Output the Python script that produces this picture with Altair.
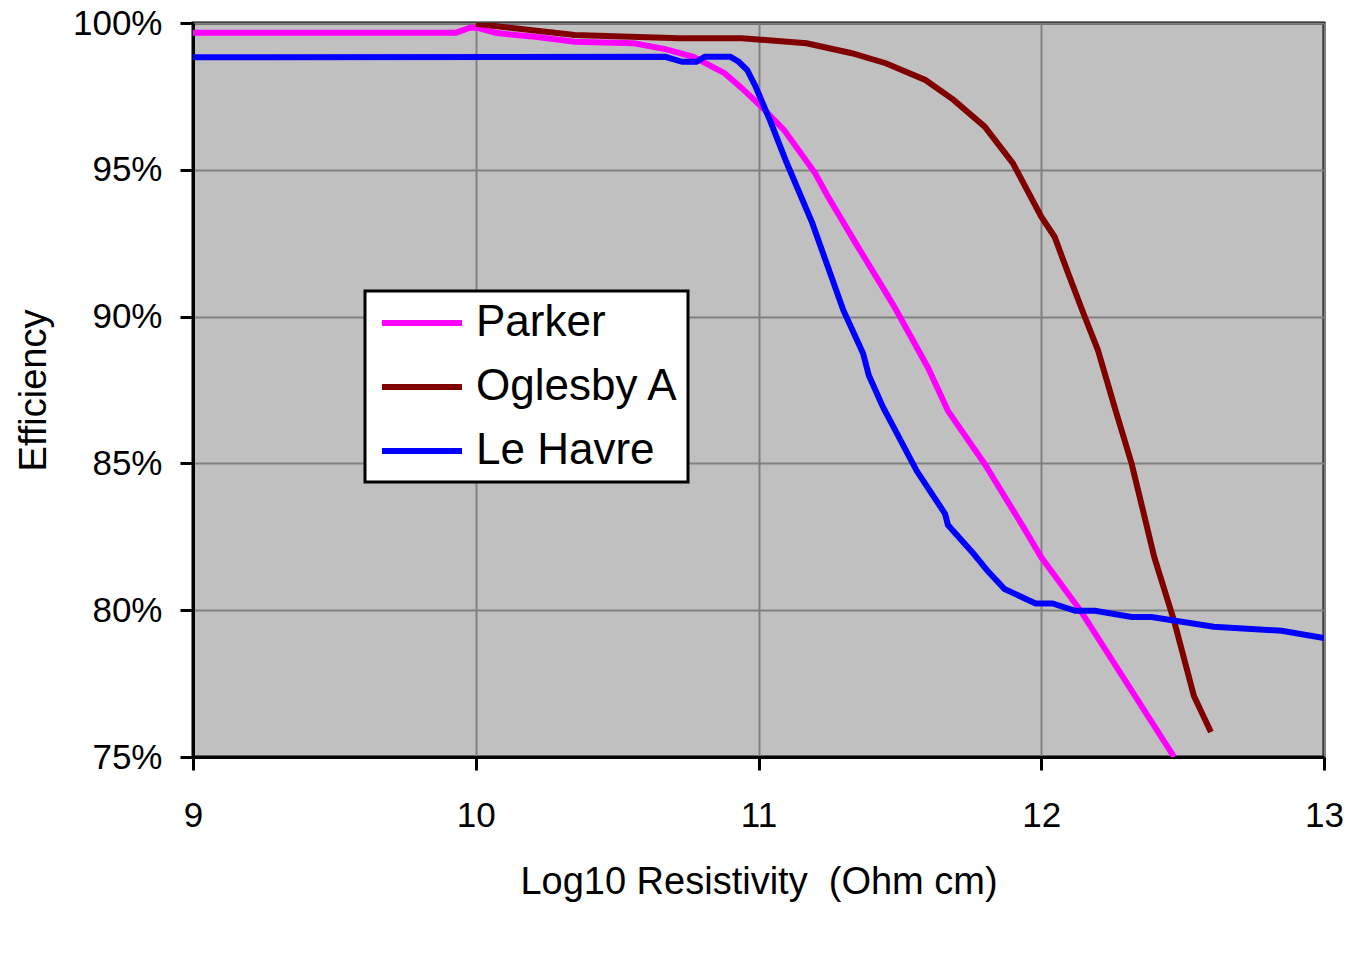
import altair as alt
import pandas as pd

# ---- data ----
parker_x = [9.0, 9.93, 9.98, 10.0, 10.07, 10.14, 10.21, 10.35, 10.56, 10.67, 10.77, 10.88, 10.94,
            11.01, 11.09, 11.20, 11.245, 11.35, 11.43, 11.48, 11.60, 11.67, 11.80, 11.94, 12.0,
            12.14, 12.47]
parker_y = [99.67, 99.67, 99.84, 99.85, 99.67, 99.59, 99.53, 99.36, 99.31, 99.11, 98.85, 98.29, 97.79,
            97.15, 96.36, 94.89, 94.1, 92.4, 91.14, 90.34, 88.25, 86.79, 84.98, 82.78, 81.8,
            79.97, 75.0]

oglesby_x = [10.0, 10.35, 10.72, 10.94, 11.17, 11.33, 11.45, 11.59, 11.69, 11.80, 11.90, 12.0,
             12.047, 12.095, 12.15, 12.20, 12.26, 12.32, 12.40, 12.47, 12.54, 12.60]
oglesby_y = [99.97, 99.59, 99.48, 99.48, 99.31, 98.97, 98.63, 98.06, 97.38, 96.47, 95.22, 93.4,
             92.72, 91.48, 90.09, 88.87, 86.9, 84.98, 81.8, 79.63, 77.08, 75.85]

havre_x = [9.0, 10.67, 10.73, 10.78, 10.81, 10.90, 10.93, 10.96, 10.99, 11.04, 11.10, 11.19, 11.30,
           11.37, 11.39, 11.44, 11.56, 11.66, 11.67, 11.76, 11.81, 11.87, 11.98, 12.04, 12.12,
           12.19, 12.32, 12.39, 12.61, 12.85, 13.0]
havre_y = [98.83, 98.85, 98.68, 98.68, 98.85, 98.85, 98.68, 98.40, 97.83, 96.70, 95.23, 93.19, 90.22,
           88.74, 88.0, 86.92, 84.74, 83.28, 82.9, 81.93, 81.34, 80.72, 80.23, 80.23, 79.98,
           79.98, 79.77, 79.77, 79.44, 79.3, 79.05]

series_names = ["Parker", "Oglesby A", "Le Havre"]
series_colors = ["#FF00FF", "#800000", "#0000FF"]
x_ticks = [9, 10, 11, 12, 13]
y_ticks = [0.75, 0.80, 0.85, 0.90, 0.95, 1.00]

rows = []
for name, xs, ys in zip(series_names, [parker_x, oglesby_x, havre_x], [parker_y, oglesby_y, havre_y]):
    for x, y in zip(xs, ys):
        rows.append({"series": name, "x": x, "y": y / 100.0})
df = pd.DataFrame(rows)

FONT = "Liberation Sans"

chart = alt.Chart(df).mark_line(strokeWidth=6, clip=True).encode(
    x=alt.X("x:Q",
            scale=alt.Scale(domain=[9, 13], nice=False, zero=False),
            axis=alt.Axis(values=x_ticks, format="d", labelFlush=False,
                          title="Log10 Resistivity\u00a0 (Ohm cm)",
                          labelPadding=28, titlePadding=30)),
    y=alt.Y("y:Q",
            scale=alt.Scale(domain=[0.75, 1.0], nice=False, zero=False),
            axis=alt.Axis(values=y_ticks, format=".0%", title="Efficiency",
                          labelPadding=18, titlePadding=19)),
    color=alt.Color("series:N",
                    scale=alt.Scale(domain=series_names, range=series_colors),
                    legend=alt.Legend(title=None, orient="none", legendX=172, legendY=268,
                                      symbolType="M-0.75,0H3.25", symbolSize=1600, symbolStrokeWidth=6,
                                      labelFontSize=44, labelFont=FONT, labelColor="black",
                                      labelLimit=500, labelExpr="datum.label + '\u2009'",
                                      labelOffset=56, padding=9, rowPadding=19,
                                      fillColor="white", strokeColor="black")),
).properties(
    width=1131,
    height=734,
    background="white",
    autosize=alt.AutoSizeParams(type="none"),
    padding={"left": 193, "top": 23, "right": 25, "bottom": 200},
).configure_view(
    fill="#C0C0C0", stroke="black", strokeWidth=3
).configure_axis(
    labelFont=FONT, titleFont=FONT, labelFontSize=35, titleFontSize=38,
    labelColor="black", titleColor="black", titleFontWeight="normal",
    domainColor="black", domainWidth=3, tickColor="black", tickWidth=3, tickSize=13,
    gridColor="#808080", gridWidth=2, grid=True
).configure_legend(
    strokeWidth=3
)

chart.save("out.html", embed_options={"renderer": "svg", "actions": False})
